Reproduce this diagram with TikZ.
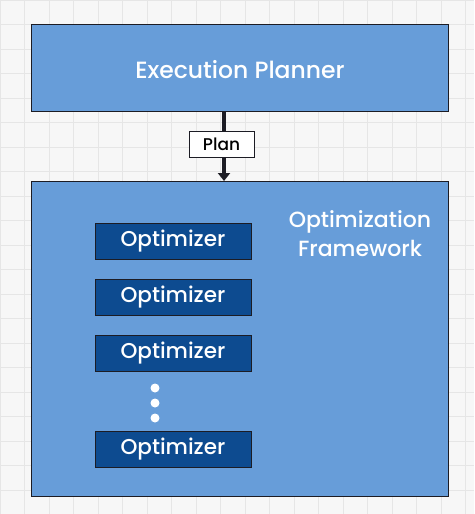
\documentclass[tikz,border=0pt]{standalone}
\usepackage{fontspec}
\setmainfont{Poppins}[UprightFont=* Medium]
\usetikzlibrary{arrows.meta}
\definecolor{bgc}{HTML}{F7F7F7}
\definecolor{gridc}{HTML}{E6E6E6}
\definecolor{boxblue}{HTML}{679DD9}
\definecolor{darkblue}{HTML}{0D4B90}
\definecolor{edgec}{HTML}{1C1C24}
\tikzset{
  bigbox/.style={draw=edgec, line width=1.3pt, fill=boxblue, inner sep=0pt},
  optbox/.style={draw=edgec, line width=1pt, fill=darkblue, text=white, minimum width=156pt, minimum height=36pt, inner sep=0pt, font=\fontsize{21.5}{24}\selectfont},
  planbox/.style={draw=edgec, line width=1pt, fill=white, minimum width=65pt, minimum height=26pt, inner sep=0pt, font=\fontsize{17}{20}\selectfont},
  flow/.style={draw=edgec, line width=4.2pt, -{Triangle[length=8pt,width=12pt]}},
  dotc/.style={circle, fill=white, minimum size=9pt, inner sep=0pt}
}
\begin{document}
\begin{tikzpicture}[x=1pt,y=-1pt]
\useasboundingbox (0,0) rectangle (474,514);
\fill[bgc] (0,0) rectangle (474,514);
\draw[gridc, line width=0.6pt, step=24.5pt] (0,0) grid (474,514);
\node[bigbox, minimum width=417pt, minimum height=87pt, anchor=north west] (planner) at (31,24) {};
\node[text=white, font=\fontsize{23.5}{27}\selectfont] (plannertxt) at (240,70) {Execution Planner};
\node[bigbox, minimum width=417pt, minimum height=315pt, anchor=north west] (frame) at (31,181) {};
\draw[flow] (planner.south -| 224,0) -- (frame.north -| 224,0);
\node[planbox] (plan) at (221.5,144) {Plan};
\node[text=white, align=center, font=\fontsize{22}{29}\selectfont] (fwtxt) at (360,234) {Optimization\\Framework};
\node[optbox] (o1) at (173,241) {Optimizer};
\node[optbox] (o2) at (173,297) {Optimizer};
\node[optbox] (o3) at (173,353) {Optimizer};
\node[dotc] (d1) at (155,388) {};
\node[dotc] (d2) at (155,403) {};
\node[dotc] (d3) at (155,418) {};
\node[optbox] (o4) at (173,449) {Optimizer};
\end{tikzpicture}
\end{document}
